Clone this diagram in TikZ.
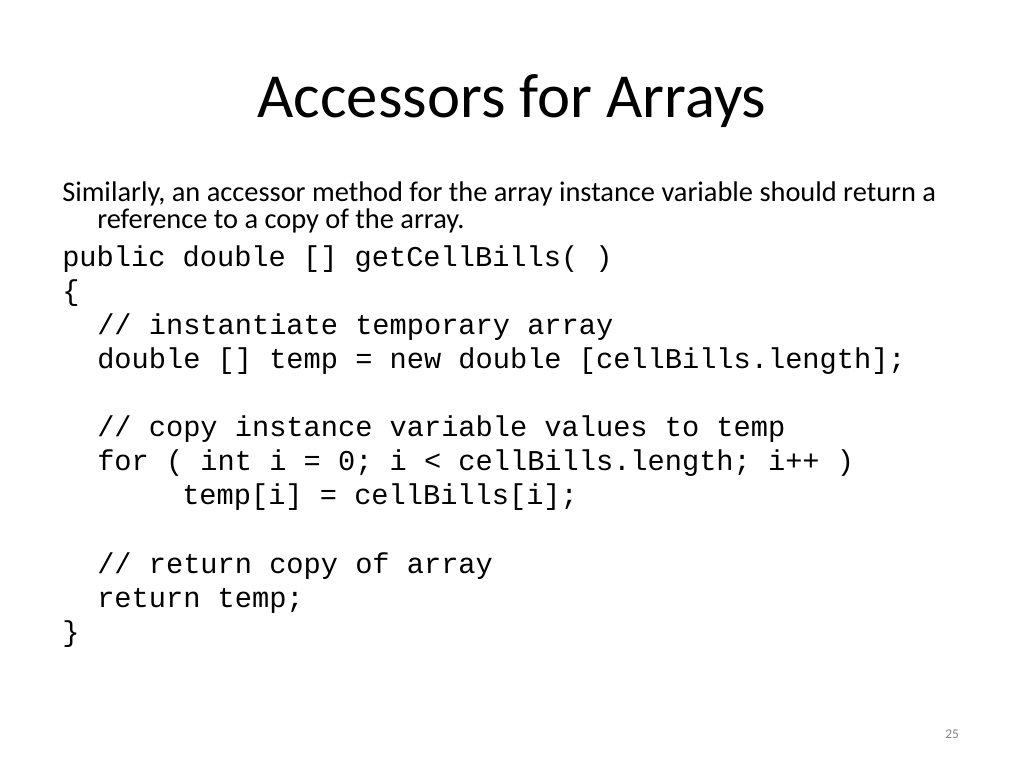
\documentclass[tikz,border=0pt]{standalone}
\usepackage{fontspec}
\setmainfont{Carlito}
\newfontfamily\codefont{Liberation Mono}
\begin{document}
\begin{tikzpicture}[x=0.75pt,y=-0.75pt,
  code/.style={anchor=base west,inner sep=0pt,font=\codefont\fontsize{21.5}{25}\selectfont},
  body/.style={anchor=base west,inner sep=0pt,font=\fontsize{21.3}{24}\selectfont}]
\useasboundingbox (0,0) rectangle (1024,768);
\node[anchor=base,inner sep=0pt,font=\fontsize{47}{56}\selectfont] (title) at (512,117) {Accessors for Arrays};
\node[body] (p1) at (62,201) {Similarly, an accessor method for the array instance variable should return a};
\node[body] (p2) at (97,228) {reference to a copy of the array.};
\node[code] (c1) at (62,266) {public double [] getCellBills( )};
\node[code] (c2) at (62,300) {\{};
\node[code] (c3) at (97,334) {// instantiate temporary array};
\node[code] (c4) at (97,368) {double [] temp = new double [cellBills.length];};
\node[code] (c5) at (97,436) {// copy instance variable values to temp};
\node[code] (c6) at (97,470) {for ( int i = 0; i < cellBills.length; i++ )};
\node[code] (c7) at (182,504) {temp[i] = cellBills[i];};
\node[code] (c8) at (97,573) {// return copy of array};
\node[code] (c9) at (97,607) {return temp;};
\node[code] (c10) at (62,641) {\}};
\node[anchor=base,inner sep=0pt,text=gray,font=\fontsize{10}{12}\selectfont] (pg) at (952,738) {25};
\end{tikzpicture}
\end{document}
